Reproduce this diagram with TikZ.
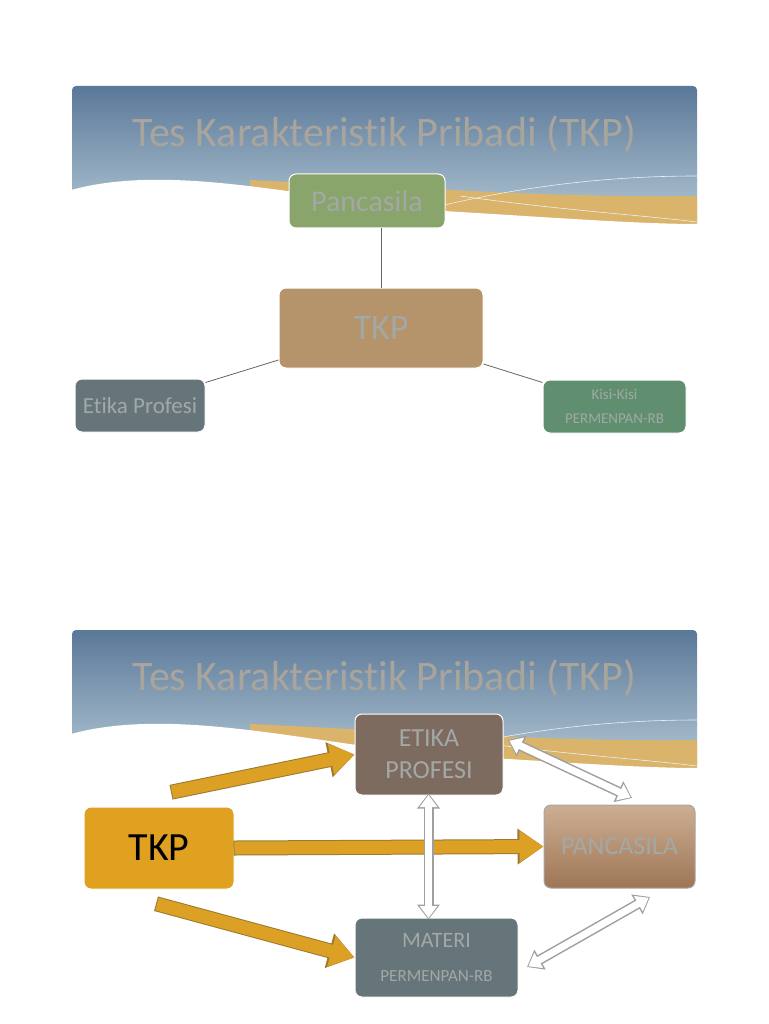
\documentclass[tikz,border=0pt]{standalone}
\usepackage{fontspec}
\setmainfont{Carlito}[Ligatures=NoCommon]
\usetikzlibrary{arrows.meta}
\definecolor{ttl}{HTML}{A9A49C}
\definecolor{hdtop}{HTML}{5A7898}
\definecolor{hdbot}{HTML}{B8CCD8}
\definecolor{band}{HTML}{D9B46A}
\definecolor{gpanc}{HTML}{8AA56B}
\definecolor{btkp}{HTML}{B5936B}
\definecolor{getk}{HTML}{65757A}
\definecolor{gkisi}{HTML}{5F8F6E}
\definecolor{betk}{HTML}{7D6B60}
\definecolor{otkp}{HTML}{E0A020}
\definecolor{pan1}{HTML}{CDAE92}
\definecolor{pan2}{HTML}{9E7656}
\definecolor{arr}{HTML}{DCA024}
\definecolor{arrd}{HTML}{9A7A30}
\definecolor{txl}{HTML}{A3A8A6}
\begin{document}
\begin{tikzpicture}[x=1pt,y=-1pt,
 box/.style={rounded corners=7pt,draw=white,line width=1pt,align=center,inner sep=0pt,text=txl},
 conn/.style={draw=gray!80!black,line width=0.8pt},
 tl/.style={font=\fontsize{42}{46}\selectfont,text=ttl},
 oarr/.style={line width=13pt,arr,-{Triangle[length=24pt,width=30pt]}},
 oarro/.style={line width=15pt,arrd,-{Triangle[length=26pt,width=34pt]},shorten <=-1pt},
 warro/.style={line width=10pt,gray!75,{Triangle[length=15pt,width=22pt]}-{Triangle[length=15pt,width=22pt]}},
 warr/.style={line width=7pt,white,{Triangle[length=12pt,width=17pt]}-{Triangle[length=12pt,width=17pt]},shorten <=1.5pt,shorten >=1.5pt}]
\useasboundingbox (0,0) rectangle (768,1024);
\fill[white] (0,0) rectangle (768,1024);
% headers
\foreach \o in {0,544}{
 \begin{scope}[yshift=-\o pt]
 \shade[top color=hdtop,bottom color=hdbot,rounded corners=4pt] (72,86) rectangle (697,232);
 \fill[band] (250,180) .. controls (420,188) and (560,198) .. (697,196) -- (697,228) -- (250,200) -- cycle;
 \fill[white] (71,190) .. controls (180,160) and (330,205) .. (460,212) .. controls (560,218) and (640,224) .. (698,224) -- (698,233) -- (71,233) -- cycle;
 \draw[white!70!hdbot,line width=0.6pt] (440,206) .. controls (550,180) and (640,176) .. (697,176);
 \draw[white!70!hdbot,line width=0.6pt] (460,196) .. controls (560,210) and (640,215) .. (697,222);
 \node[tl] (t\o) at (384,134) {Tes Karakteristik Pribadi (TKP)};
 \end{scope}}
% slide 1
\node[box,fill=gpanc,minimum width=156pt,minimum height=54pt,font=\fontsize{30}{34}\selectfont] (p1) at (367,201) {Pancasila};
\node[box,fill=btkp,minimum width=204pt,minimum height=80pt,font=\fontsize{36}{40}\selectfont] (k1) at (381,328) {TKP};
\node[box,fill=getk,minimum width=130pt,minimum height=53pt,font=\fontsize{23}{26}\selectfont] (e1) at (140,405.5) {Etika Profesi};
\node[box,fill=gkisi,minimum width=143pt,minimum height=53pt,font=\fontsize{15}{24}\selectfont] (s1) at (614.5,406.5) {Kisi-Kisi\\PERMENPAN-RB};
\draw[conn] (p1.south -| k1.north) -- (k1.north);
\path (k1.west) ++(0,-32pt) coordinate (kl);
\path (k1.east) ++(0,-36pt) coordinate (kr);
\path (e1.north east) ++(0,-4pt) coordinate (el);
\path (s1.north west) ++(0,-3pt) coordinate (sl);
\draw[conn] (kl) -- (el);
\draw[conn] (kr) -- (sl);
% slide 2
\node[box,fill=betk,minimum width=148pt,minimum height=81pt,font=\fontsize{26}{32}\selectfont] (e2) at (429,754.5) {ETIKA\\PROFESI};
\node[box,fill=otkp,minimum width=150pt,minimum height=82pt,font=\fontsize{40}{44}\selectfont,text=black] (k2) at (159,848) {TKP};
\node[box,top color=pan1,bottom color=pan2,draw=gray!70,minimum width=151pt,minimum height=83pt,font=\fontsize{26}{30}\selectfont] (p2) at (619.5,846.5) {PANCASILA};
\node[box,fill=getk,minimum width=163pt,minimum height=79pt,font=\fontsize{22}{34}\selectfont] (m2) at (436.5,957.5) {MATERI\\{\fontsize{17}{18}\selectfont PERMENPAN-RB}};
\coordinate (a1) at (172,792);
\coordinate (a2) at (157,904);
\draw[oarro] (a1) -- (e2.west);
\draw[oarr] (a1) -- (e2.west);
\draw[oarro] (k2.east) -- (p2.west);
\draw[oarr] (k2.east) -- (p2.west);
\draw[oarro] (a2) -- (m2.west);
\draw[oarr] (a2) -- (m2.west);
\path (e2.south) ++(0,2pt) coordinate (ev1);
\path (m2.north) ++(-8pt,-2pt) coordinate (mv1);
\coordinate (d1) at (508,740); \coordinate (d2) at (632,798);
\coordinate (f1) at (527,967); \coordinate (f2) at (650,897);
\draw[warro] (ev1 -| mv1) -- (mv1);
\draw[warr] (ev1 -| mv1) -- (mv1);
\draw[warro] (d1) -- (d2); \draw[warr] (d1) -- (d2);
\draw[warro] (f1) -- (f2); \draw[warr] (f1) -- (f2);
\end{tikzpicture}
\end{document}
